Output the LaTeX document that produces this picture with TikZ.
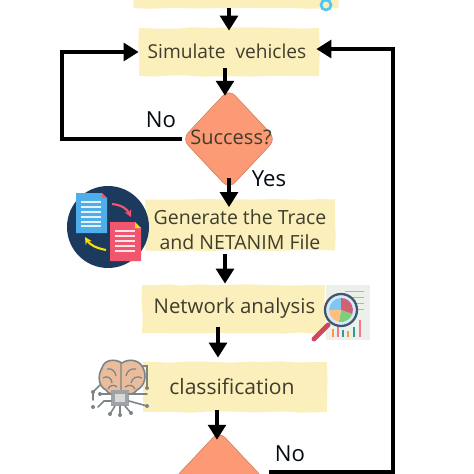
\documentclass[tikz,border=0pt]{standalone}
\usepackage{fontspec}
\setmainfont{Open Sans}
\usetikzlibrary{arrows.meta,shapes.geometric,calc,decorations.pathmorphing}
\definecolor{boxy}{HTML}{FBEFBC}
\definecolor{dia}{HTML}{FB9A74}
\definecolor{ink}{HTML}{3F3D2C}
\definecolor{navy}{HTML}{1B3A5E}
\definecolor{docb}{HTML}{4DAEEA}
\definecolor{docr}{HTML}{F2566F}
\definecolor{gry}{HTML}{7C8488}
\definecolor{brn}{HTML}{E9BC9C}
\tikzset{
  bx/.style={fill=boxy,inner sep=0pt,decorate,decoration={random steps,segment length=9pt,amplitude=0.45pt}},
  lbl/.style={text=ink,inner sep=0pt,align=center},
  dlbl/.style={text=black!80!navy,font=\fontsize{12.6pt}{14pt}\selectfont,inner sep=0pt},
  dm/.style={diamond,aspect=0.94,fill=dia,draw=dia!80!black,line width=0.3pt,inner sep=0pt,rounded corners=5pt},
  arr/.style={draw=black,line width=2.3pt,-{Triangle[length=8.5pt,width=10pt]}},
  lin/.style={draw=black,line width=2.3pt},
  wl/.style={white,line width=0.7pt},
  pc/.style={gry,line width=0.9pt,line cap=round}
}
\begin{document}
\begin{tikzpicture}[x=0.02cm,y=-0.02cm]
\useasboundingbox (0,0) rectangle (474,474);
\clip (0,0) rectangle (474,474);
\fill[white] (0,0) rectangle (474,474);

% boxes
\node[bx,minimum width=4.1cm,minimum height=1cm] (top) at (236,-17) {};
\node[bx,minimum width=3.6cm,minimum height=0.96cm] (sim) at (229,52) {};
\node[bx,minimum width=3.8cm,minimum height=1.02cm] (gen) at (240,225) {};
\node[bx,minimum width=3.66cm,minimum height=0.96cm] (net) at (233.5,309) {};
\node[bx,minimum width=3.68cm,minimum height=1cm] (cls) at (235,387) {};

% diamonds
\node[dm,minimum width=1.88cm,minimum height=2cm] (d1) at (229,139) {};
\node[dm,minimum width=1.88cm,minimum height=2cm] (d2) at (219,481) {};

% labels
\node[lbl,font=\fontsize{10.9pt}{14pt}\selectfont] (tsim) at (227,51) {Simulate\ \ vehicles};
\node[lbl,font=\fontsize{11.1pt}{14.2pt}\selectfont] (tgen) at (240,230) {Generate the Trace\\and NETANIM File};
\node[lbl,font=\fontsize{11.6pt}{14pt}\selectfont] (tnet) at (234.5,308) {Network analysis};
\node[lbl,font=\fontsize{12pt}{14pt}\selectfont] (tcls) at (232,387) {classification};
\node[lbl,font=\fontsize{11.4pt}{14pt}\selectfont] (tsuc) at (231,137) {Success?};
\node[dlbl] (no1) at (161,120) {No};
\node[dlbl] (yes) at (269,179) {Yes};
\node[dlbl] (no2) at (290,454) {No};

% connectors
\coordinate (lc) at (62,139);
\coordinate (lt) at (62,52);
\coordinate (rt) at (393,49);
\coordinate (rb) at (393,472);
\draw[arr] ($(top.south)+(-7,0)$) -- ($(sim.north)+(0,3)$);
\draw[arr] ($(sim.south)+(-4,-8)$) -- ($(d1.north)+(-4,7)$);
\draw[arr] ($(d1.south)+(0,-11)$) -- ($(gen.north)+(-11,8)$);
\draw[arr] ($(gen.south)+(-15,3)$) -- ($(net.north)+(-8.5,-1)$);
\draw[arr] ($(net.south)+(-15.5,-6)$) -- ($(cls.north)+(-17,-4)$);
\draw[arr] ($(cls.south)+(-18,-2)$) -- ($(d2.north)+(-2,9)$);
\draw[lin] (d1.west) -- (lc) -- (lt);
\draw[arr,shorten <=-1.15pt] (lt) -- (sim.west);
\draw[lin] ($(d2.east |- rb)+(3,0)$) -- (rb) -- (rt);
\draw[arr,shorten <=-1.15pt] (rt) -- ($(sim.east |- rt)+(-3,0)$);

% bottom of the icon above
\draw[cyan!70!white,line width=1.5pt] (326,5) circle (5);

% document icon
\fill[navy] (108,227) circle (41);
\fill[docb] (76,193) -- (102,193) -- (107,198) -- (107,233) -- (76,233) -- cycle;
\fill[docr] (102,193) -- (107,198) -- (102,198) -- cycle;
\foreach \y in {202,207,212,217,222,226} \draw[wl,opacity=.85] (81,\y) -- (101,\y);
\fill[docr] (110,222) -- (135,222) -- (141,228) -- (141,261) -- (110,261) -- cycle;
\fill[yellow!80!orange] (135,222) -- (141,228) -- (135,228) -- cycle;
\foreach \y in {231,236,241,246,251} \draw[wl,opacity=.85] (115,\y) -- (135,\y);
\draw[docr,line width=1.2pt,-{Stealth[length=4pt,width=4pt]}] (112,204) .. controls (122,205) and (127,209) .. (131,217);
\draw[yellow!80!orange,line width=1.2pt,-{Stealth[length=4pt,width=4pt]}] (106,250) .. controls (96,248) and (90,245) .. (85,237);

% analysis icon
\fill[green!25!black!8!white] (326,285) rectangle (370,340);
\foreach \y in {291,297,303,309} \draw[gry!60,line width=0.4pt] (345,\y) -- (364,\y);
\foreach \x/\h/\c in {333/8/orange,338/14/docr,343/7/teal,348/6/orange,354/10/teal,360/17/docr}
  \draw[\c!80!white,line width=1.3pt] (\x,337) -- (\x,337-\h);
\draw[docr!85!black,line width=2.8pt,line cap=round] (314,339) -- (328,325);
\fill[docb!25!white] (341,310) circle (15);
\fill[docb!70!white] (341,310) -- (329,310) arc[start angle=180,end angle=270,radius=12] -- cycle;
\fill[docr!70!gray] (341,310) -- (341,298) arc[start angle=270,end angle=380,radius=12] -- cycle;
\fill[green!45!gray!70!white] (341,310) -- (352.3,314.1) arc[start angle=380,end angle=460,radius=12] -- cycle;
\fill[orange!50!white] (341,310) -- (338.9,321.8) arc[start angle=460,end angle=540,radius=12] -- cycle;
\draw[navy!60!gray,line width=1.3pt] (341,310) circle (16);

% AI brain icon
\fill[brn] (122,363) .. controls (114,358) and (104,360) .. (102,368) .. controls (97,376) and (99,387) .. (106,390)
  .. controls (110,396) and (117,395) .. (121,391) .. controls (126,396) and (134,395) .. (137,390)
  .. controls (145,386) and (147,375) .. (143,368) .. controls (140,360) and (129,358) .. (122,363) -- cycle;
\draw[gry,line width=0.9pt] (122,363) .. controls (114,358) and (104,360) .. (102,368) .. controls (97,376) and (99,387) .. (106,390)
  .. controls (110,396) and (117,395) .. (121,391) .. controls (126,396) and (134,395) .. (137,390)
  .. controls (145,386) and (147,375) .. (143,368) .. controls (140,360) and (129,358) .. (122,363) -- cycle;
\draw[gry,line width=0.7pt] (121,363) -- (121,391)
  (107,369) .. controls (112,368) and (115,371) .. (116,376)
  (103,378) .. controls (107,375) and (112,378) .. (112,383)
  (108,389) .. controls (110,385) and (114,384) .. (117,387)
  (136,369) .. controls (131,368) and (127,371) .. (126,376)
  (142,378) .. controls (137,375) and (132,378) .. (131,383)
  (135,389) .. controls (133,385) and (129,384) .. (125,387);
\fill[gry!75!white] (111,390) rectangle (129,406);
\fill[white!70!gray] (115,394) rectangle (125,402);
\draw[pc] (111,394) -- (100,394) (111,401) -- (104,401) -- (98,407) (129,394) -- (147,394) (129,401) -- (147,406)
  (115,406) -- (110,414) (120,406) -- (120,415) (125,406) -- (131,413)
  (100,385) -- (93,392) (93,392) -- (93,400)
  (143,366) -- (147,366) -- (147,388);
\foreach \p in {(93,392),(93,407),(100,394),(147,406),(110,414),(120,415),(131,413),(147,388)}
  \fill[gry] \p circle (2);
\end{tikzpicture}
\end{document}
